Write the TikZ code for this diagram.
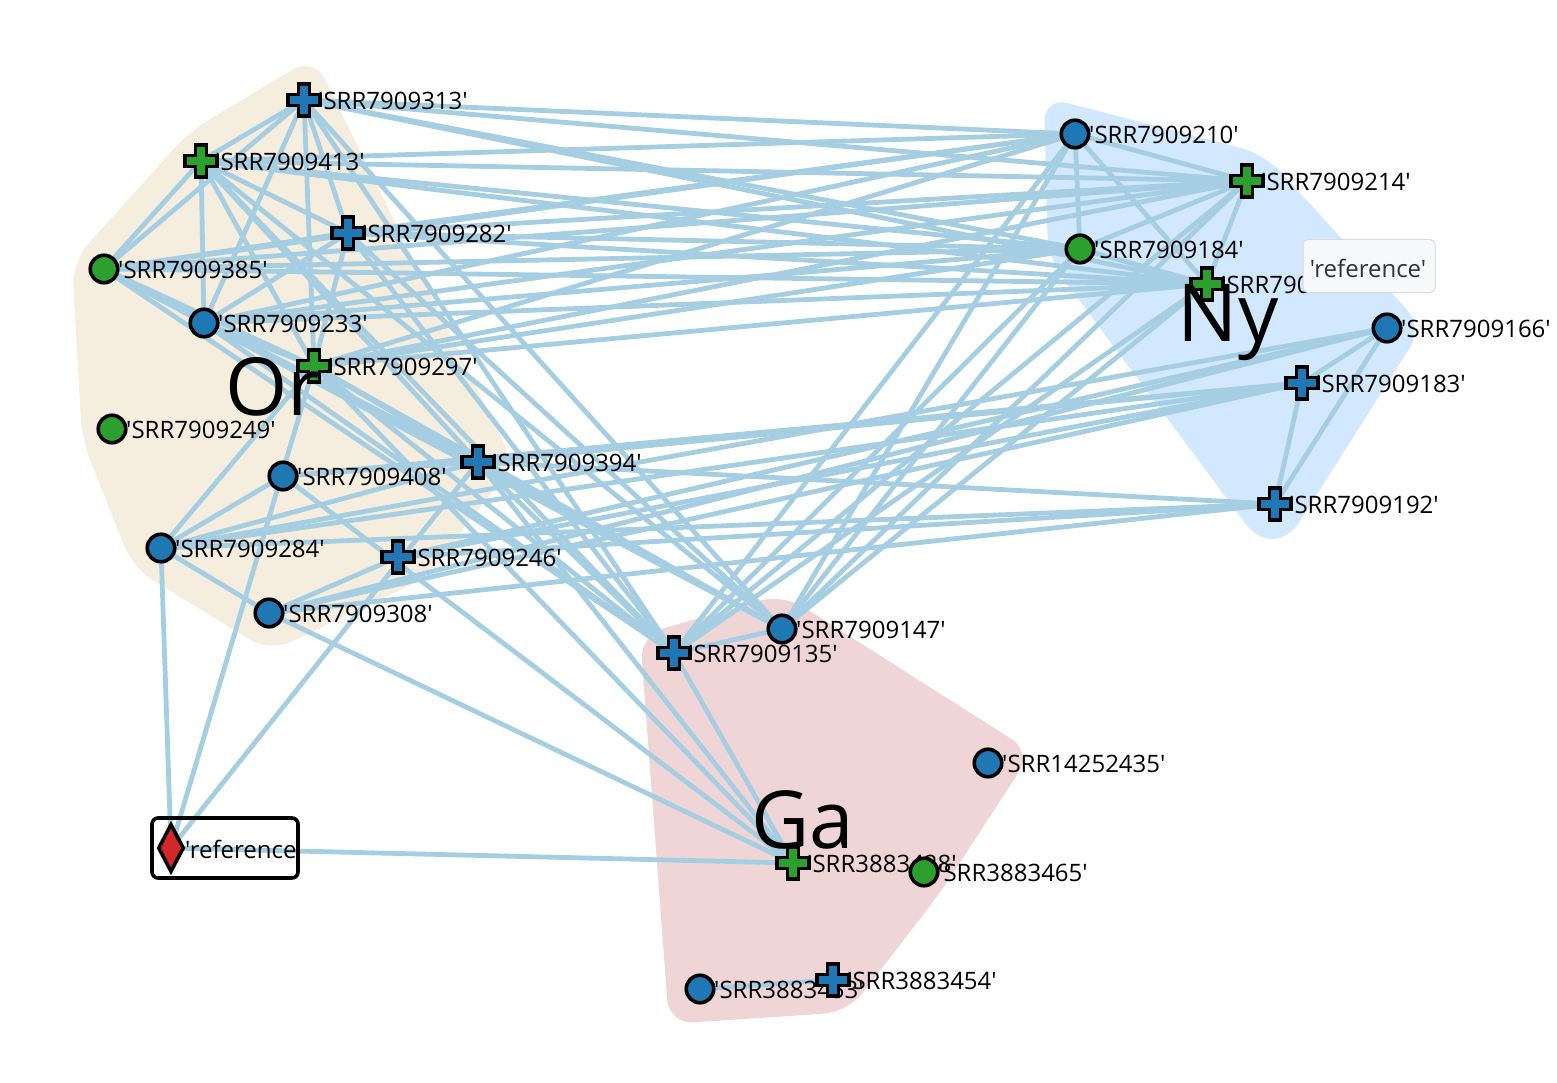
\documentclass[tikz,border=0pt]{standalone}
\usepackage{fontspec}
\usetikzlibrary{shapes.geometric}
\newfontfamily\labfont{Open Sans}
\pgfdeclarelayer{hulls}
\pgfdeclarelayer{links}
\pgfsetlayers{hulls,links,main}
\definecolor{linkblue}{HTML}{A6CEE3}
\definecolor{markblue}{HTML}{1F77B4}
\definecolor{markgreen}{HTML}{2CA02C}
\definecolor{markred}{HTML}{D62728}
\definecolor{hullor}{HTML}{F5EDDE}
\definecolor{hullny}{HTML}{D1E8FE}
\definecolor{hullga}{HTML}{F0D5D6}
\definecolor{tipfill}{HTML}{F8F9FA}
\definecolor{tipline}{HTML}{D8DADC}
\tikzset{
  crossmark/.style={minimum size=42,inner sep=0,path picture={
    \begin{scope}[shift={(path picture bounding box.center)}]
      \filldraw[draw=black,line width=3.6,fill=#1] (-5.5,-16) -- (5.5,-16) -- (5.5,-5.5) -- (16,-5.5) -- (16,5.5) -- (5.5,5.5)
        -- (5.5,16) -- (-5.5,16) -- (-5.5,5.5) -- (-16,5.5) -- (-16,-5.5) -- (-5.5,-5.5) -- cycle;
    \end{scope}}},
  roundmark/.style={circle,draw=black,line width=3.6,fill=#1,minimum size=27.5,inner sep=0},
  bluecross/.style={crossmark=markblue},
  greencross/.style={crossmark=markgreen},
  blueround/.style={roundmark=markblue},
  greenround/.style={roundmark=markgreen},
  redmark/.style={diamond,aspect=0.55,draw=black,line width=3.6,fill=markred,minimum width=26,minimum height=48,inner sep=0},
  nodelabel/.style={anchor=west,inner sep=0,font=\labfont\fontsize{24}{26}\selectfont},
  grouplabel/.style={anchor=base,inner sep=0,font=\labfont\fontsize{80}{90}\selectfont},
  link/.style={draw=linkblue,line width=4.8},
  hull/.style={rounded corners=24,draw=none}
}
\begin{document}
\begin{tikzpicture}[x=1pt,y=-1pt]
   \useasboundingbox (0,0) rectangle (1557,1083);
   \foreach \nm/\xx/\yy/\kind/\txt in {
      a313/304/100/bluecross/'SRR7909313', a413/201/161/greencross/'SRR7909413',
      a282/348/233/bluecross/'SRR7909282', a385/104/269/greenround/'SRR7909385',
      a233/204/323/blueround/'SRR7909233', a297/314/366/greencross/'SRR7909297',
      a249/112/429/greenround/'SRR7909249', a394/478/462/bluecross/'SRR7909394',
      a408/283/476/blueround/'SRR7909408', a284/161/548/blueround/'SRR7909284',
      a246/398/557/bluecross/'SRR7909246', a308/269/613/blueround/'SRR7909308',
      b210/1075/134/blueround/'SRR7909210', b214/1247/181/greencross/'SRR7909214',
      b184/1080/249/greenround/'SRR7909184', b290/1207/284/greencross/'SRR790,
      b166/1387/328/blueround/'SRR7909166', b183/1302/383/bluecross/'SRR7909183',
      b192/1275/504/bluecross/'SRR7909192', c147/782/629/blueround/'SRR7909147',
      c135/674/653/bluecross/'SRR7909135', c435/988/763/blueround/'SRR14252435',
      c428/793/863/greencross/'SRR3883428', c465/924/872/greenround/'SRR3883465',
      c453/700/989/blueround/'SRR3883453', c454/833/980/bluecross/'SRR3883454',
      ref/171/848/redmark/'reference'}
   {
      \node[\kind] (\nm) at (\xx,\yy) {};
      \node[nodelabel] (t\nm) at (\xx+14,\yy+1) {\txt};
   }
   \node[draw=black,line width=3.6,rounded corners=6,minimum width=146,minimum height=60,inner sep=0] (refbox) at (225,848) {};
   \begin{pgfonlayer}{hulls}
      \fill[hull,hullor] (314,57) -- (190,131) -- (72,262) -- (82,440) -- (133,568) -- (270,652) -- (425,578) -- (514,464) -- cycle;
      \fill[hull,hullny] (1044,97) -- (1048,258) [rounded corners=48] -- (1274,562) [rounded corners=24] -- (1423,327) -- (1264,154) -- cycle;
      \fill[hull,hullga] (640,635) -- (783,594) -- (1032,752) -- (940,893) -- (848,1012) -- (669,1024) -- cycle;
   \end{pgfonlayer}
   \begin{pgfonlayer}{links}
      % inside the groups
      \foreach \u/\v in {a313/a413,a313/a282,a313/a385,a313/a233,a313/a297,a413/a282,a413/a385,a413/a233,a413/a297,
         a282/a385,a282/a233,a282/a297,a385/a233,a385/a297,a233/a297,a408/a394,a408/a284,a284/a297,a284/a394,a284/a308,a308/a246,
         a413/a394,a385/a394,a233/a394,a297/a394,
         b210/b214,b210/b184,b210/b290,b214/b184,b214/b290,b184/b290,b166/b183,b166/b192,b183/b192,c135/c147,c453/c454}
         \draw[link] (\u.center) -- (\v.center);
      % upper part of Or
      \foreach \u in {a313,a413,a282,a385,a233,a297}
         \foreach \v in {b210,b214,b184,b290,c135,c147}
            \draw[link] (\u.center) -- (\v.center);
      % lower part of Or
      \foreach \u in {a246,a308,a284}
         \foreach \v in {b166,b183,b192}
            \draw[link] (\u.center) -- (\v.center);
      % Ga to Ny
      \foreach \u in {c135,c147}
         \foreach \v in {b210,b214,b184,b290}
            \draw[link] (\u.center) -- (\v.center);
      \foreach \u/\v in {a394/b183,a394/b192,a408/b183,a394/c135,a394/c147,c428/c135,c428/a297,c428/a394,c428/a408,c428/a308,c428/ref,
         ref/a284,ref/a297,ref/a394}
         \draw[link] (\u.center) -- (\v.center);
   \end{pgfonlayer}
   \node[grouplabel] (groupor) at (273,415) {Or};
   \node[grouplabel] (groupny) at (1228,341) {Ny};
   \node[grouplabel] (groupga) at (803,848) {Ga};
   \node[draw=tipline,line width=1,fill=tipfill,rounded corners=5,minimum width=132,minimum height=53,inner sep=0] (tipbox) at (1369,266) {};
   \node[nodelabel,anchor=center,text=black!80] (tiptext) at (1368,268) {'reference'};
\end{tikzpicture}
\end{document}
